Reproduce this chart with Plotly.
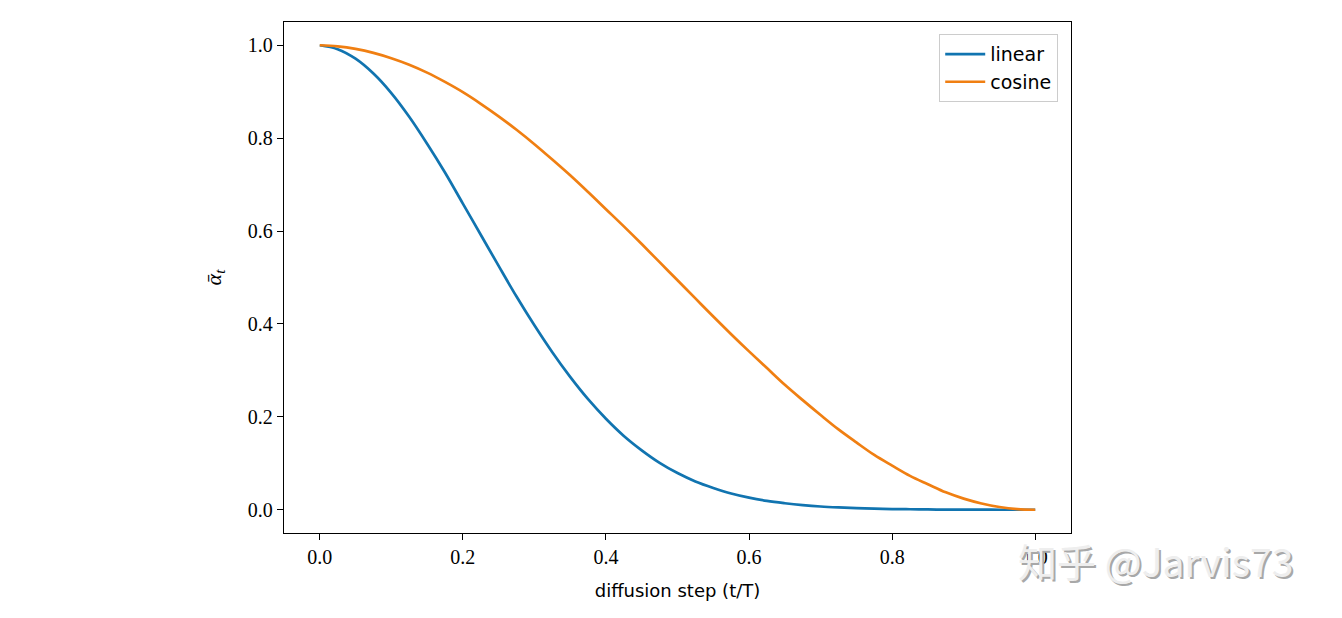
import plotly.graph_objects as go

# diffusion step t/T
steps = [0.000, 0.025, 0.050, 0.075, 0.100, 0.125, 0.150, 0.175, 0.200, 0.225,
         0.250, 0.275, 0.300, 0.325, 0.350, 0.375, 0.400, 0.425, 0.450, 0.475,
         0.500, 0.525, 0.550, 0.575, 0.600, 0.625, 0.650, 0.675, 0.700, 0.725,
         0.750, 0.775, 0.800, 0.825, 0.850, 0.875, 0.900, 0.925, 0.950, 0.975, 1.000]
# alpha-bar, linear schedule
linear_vals = [1.000, 0.9915, 0.971, 0.939, 0.897, 0.846, 0.788, 0.726, 0.659, 0.592,
               0.525, 0.459, 0.397, 0.339, 0.286, 0.238, 0.196, 0.159, 0.128, 0.101,
               0.079, 0.061, 0.047, 0.035, 0.026, 0.019, 0.014, 0.010, 0.007, 0.005,
               0.0035, 0.0024, 0.0016, 0.0011, 0.0007, 0.0004, 0.0003, 0.00015, 0.0001, 0.00006, 0.00004]
# alpha-bar, cosine schedule
cosine_vals = [1.000, 0.9975, 0.992, 0.9835, 0.972, 0.958, 0.941, 0.921, 0.899, 0.874,
               0.847, 0.818, 0.787, 0.754, 0.720, 0.684, 0.647, 0.610, 0.572, 0.533,
               0.494, 0.455, 0.416, 0.378, 0.341, 0.305, 0.269, 0.236, 0.204, 0.173,
               0.145, 0.118, 0.095, 0.073, 0.055, 0.0375, 0.024, 0.0136, 0.006, 0.0015, 0.000]
tick_vals = [0.0, 0.2, 0.4, 0.6, 0.8, 1.0]
tick_text = ["0.0", "0.2", "0.4", "0.6", "0.8", "1.0"]

fig = go.Figure()
fig.add_trace(go.Scatter(x=steps, y=linear_vals, mode="lines", name="linear",
                         line=dict(color="#1174b0", width=2.7, shape="spline", smoothing=1.0)))
fig.add_trace(go.Scatter(x=steps, y=cosine_vals, mode="lines", name="cosine",
                         line=dict(color="#f07f12", width=2.7, shape="spline", smoothing=1.0)))

axis_common = dict(showline=True, linecolor="black", linewidth=1.4, mirror=True,
                   ticks="outside", ticklen=6, tickwidth=1.3, tickcolor="black",
                   showgrid=False, zeroline=False,
                   tickfont=dict(family="Liberation Serif, DejaVu Serif, serif", size=20, color="black"),
                   tickvals=tick_vals, ticktext=tick_text)

fig.update_xaxes(range=[-0.05, 1.05], title=dict(text="diffusion step (t/T)",
                 font=dict(family="DejaVu Sans, sans-serif", size=18, color="black"), standoff=17),
                 **axis_common)
fig.update_yaxes(range=[-0.05, 1.05], title=dict(text="<i>ᾱ<sub>t</sub></i>",
                 font=dict(family="Liberation Serif, DejaVu Serif, serif", size=22, color="black"), standoff=20),
                 **axis_common)

fig.update_layout(
    width=1342, height=618,
    margin=dict(l=276, r=279, t=14, b=93),
    paper_bgcolor="white", plot_bgcolor="white",
    legend=dict(x=0.9835, y=0.9765, xanchor="right", yanchor="top",
                bgcolor="white", bordercolor="#cccccc", borderwidth=1.2,
                font=dict(family="DejaVu Sans, sans-serif", size=19, color="black"),
                tracegroupgap=10, itemwidth=40),
    showlegend=True,
)

# watermark
wm = "知乎 @Jarvis73"
wm_font = "Noto Sans CJK SC, sans-serif"
wm_x = (1008 - 276) / 787
wm_y = -(552 - 14 - 511) / 511
fig.add_annotation(text=wm, xref="paper", yref="paper", x=wm_x, y=wm_y,
                   xshift=2, yshift=-2, xanchor="left", yanchor="middle", showarrow=False,
                   font=dict(family=wm_font, size=39, color="#a8a8a8"))
fig.add_annotation(text=wm, xref="paper", yref="paper", x=wm_x, y=wm_y,
                   xanchor="left", yanchor="middle", showarrow=False,
                   font=dict(family=wm_font, size=39, color="#eeeeee"))

fig.write_html("out.html")
